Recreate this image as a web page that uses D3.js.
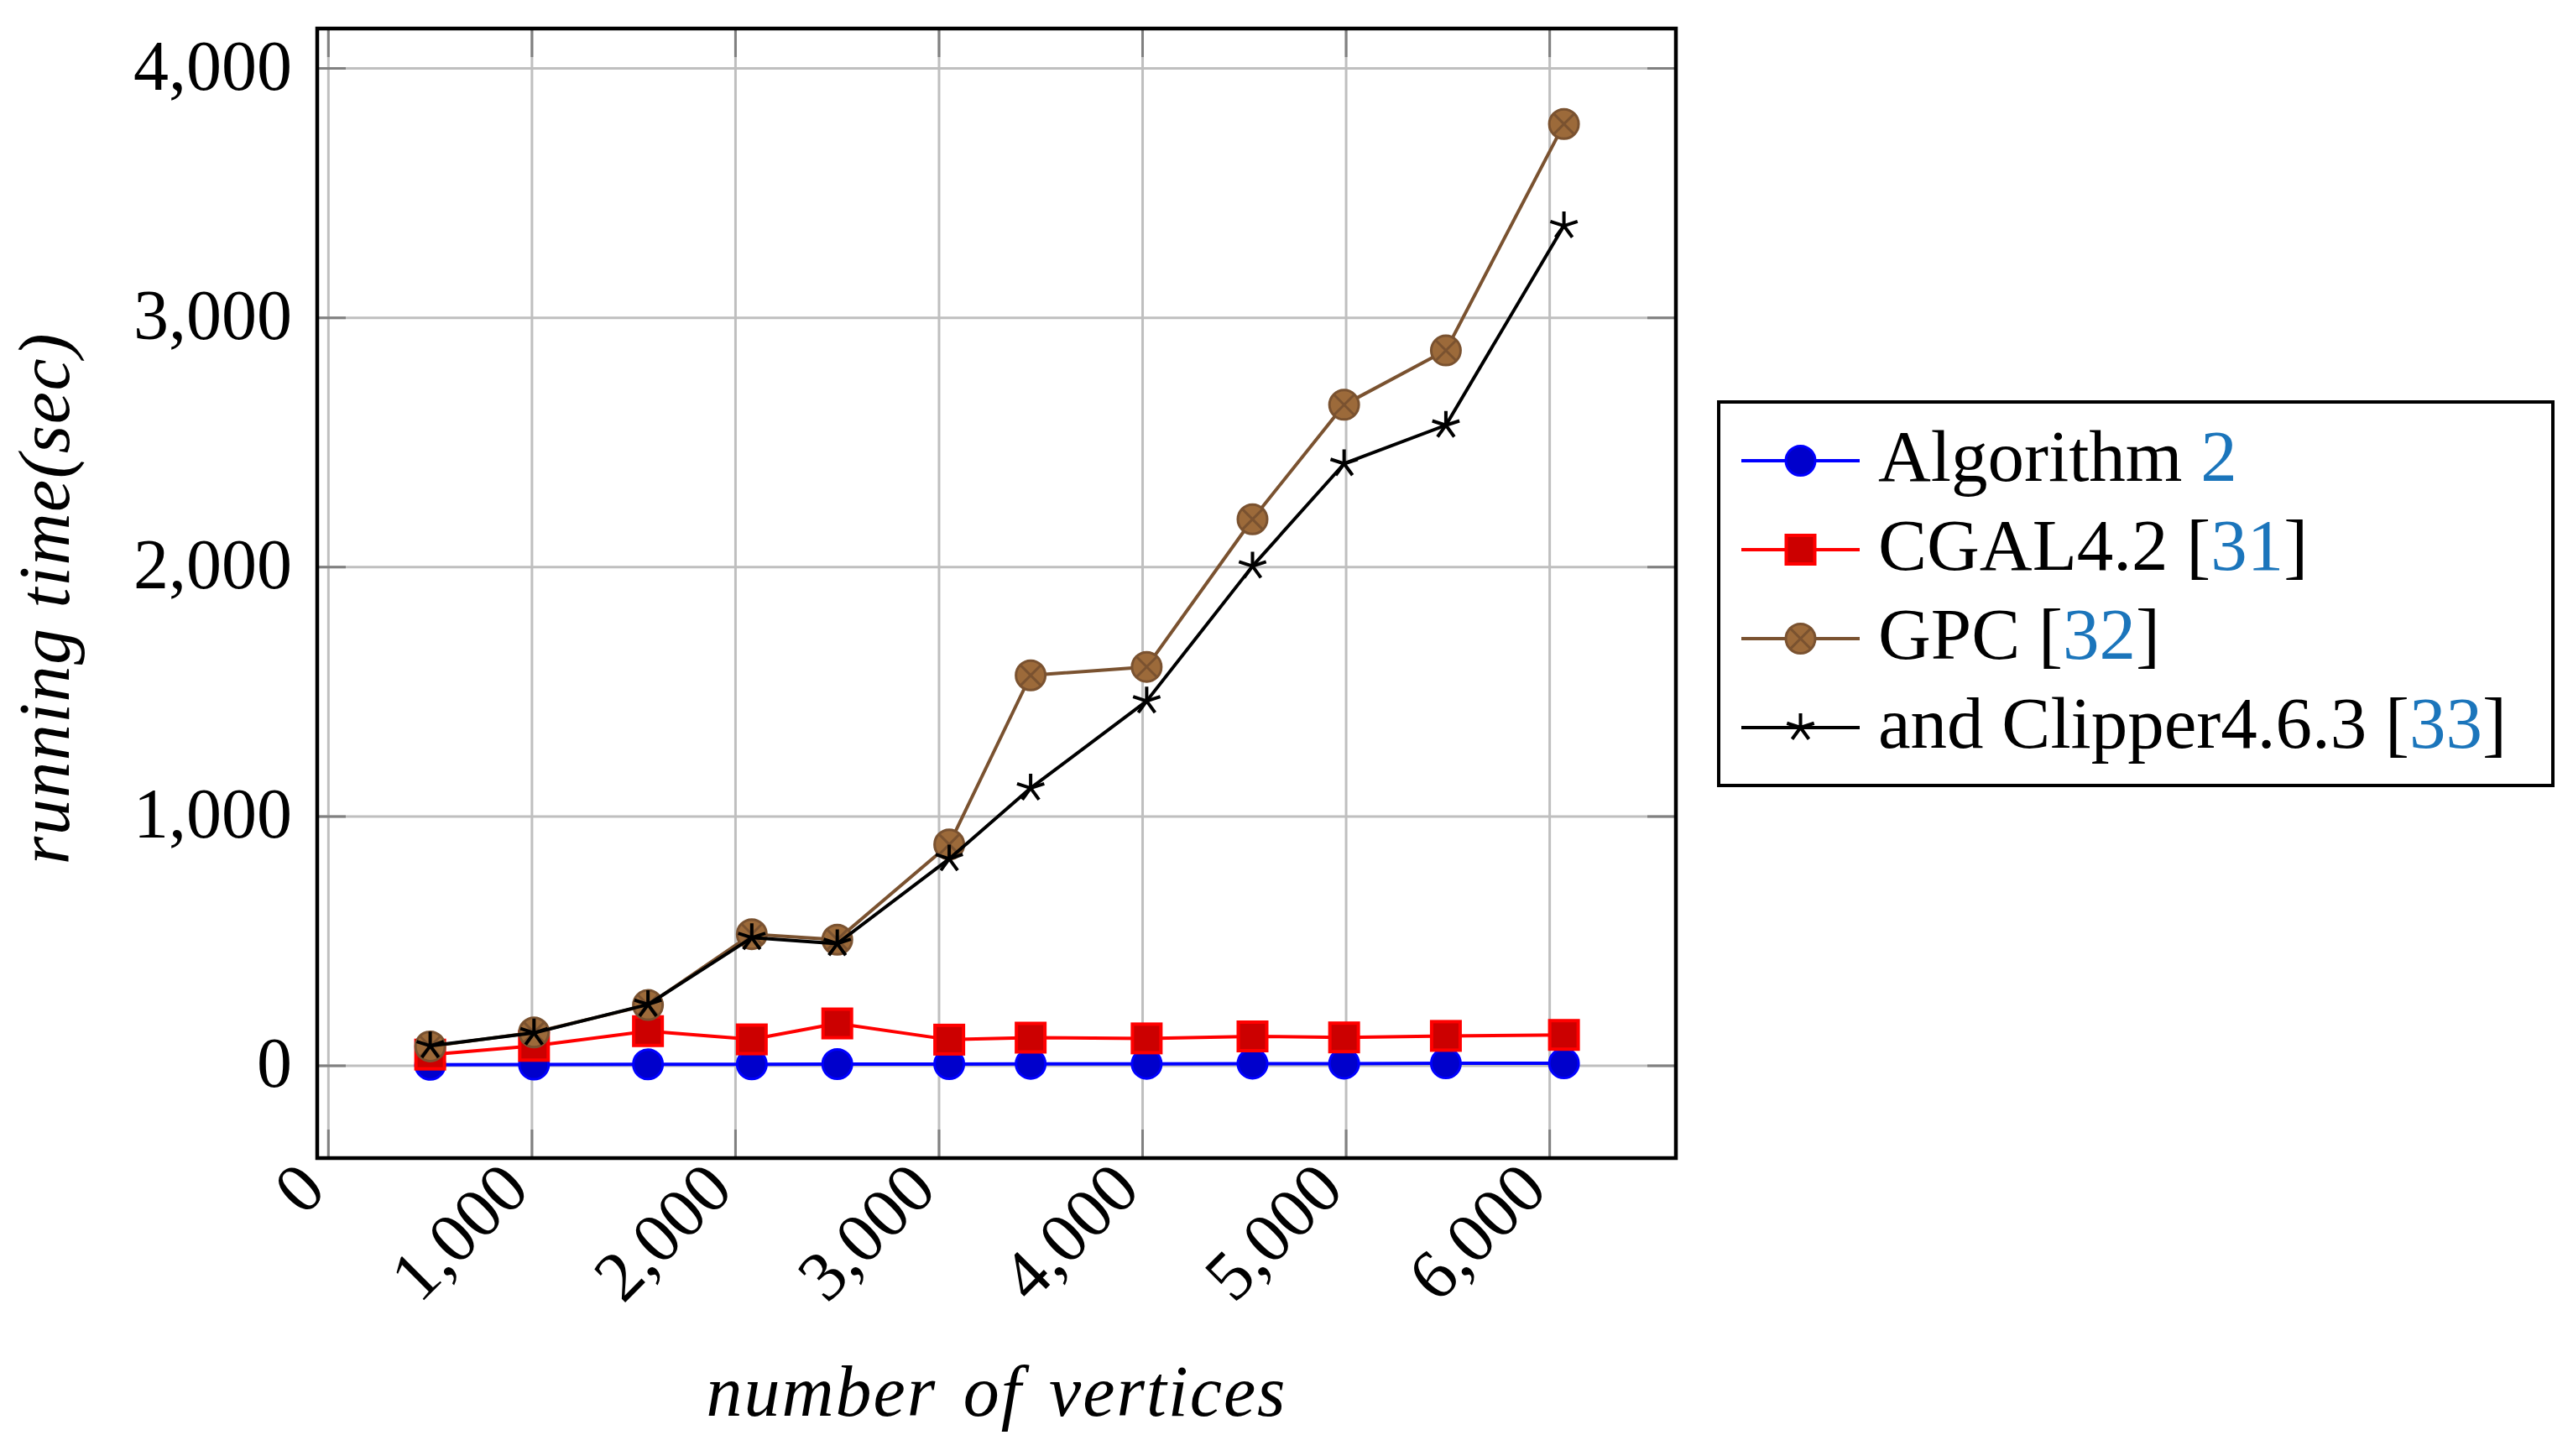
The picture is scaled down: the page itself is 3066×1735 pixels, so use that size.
<!DOCTYPE html>
<html lang="en">
<head>
  <meta charset="UTF-8">
  <title>Running time vs number of vertices</title>
  <script src="https://d3js.org/d3.v7.min.js"></script>
  <style>
    body { margin: 0; background: #fff; }
    svg text { font-family: "Liberation Serif", "Times New Roman", serif; fill: #000; }
    .grid line { stroke: #bfbfbf; stroke-width: 3; }
    .tick-mark { stroke: #808080; stroke-width: 3; }
  </style>
</head>
<body>
  <svg id="chart" width="3066" height="1735"></svg>

  <script>
    // values
    const vertices = [500, 1010, 1570, 2080, 2500, 3050, 3450, 4020, 4540, 4990, 5490, 6070];
    const algorithm2 = [4, 5, 6, 6, 7, 7, 8, 8, 9, 9, 10, 10];
    const cgal = [45, 80, 139, 106, 170, 105, 113, 110, 118, 114, 120, 124];
    const gpc = [78, 134, 244, 528, 506, 888, 1566, 1600, 2192, 2651, 2869, 3777];
    const clipper = [80, 132, 246, 514, 490, 830, 1114, 1463, 2004, 2415, 2569, 3369];

    const xTicks = [0, 1000, 2000, 3000, 4000, 5000, 6000];
    const yTicks = [0, 1000, 2000, 3000, 4000];

    const seriesNames = ["Algorithm ", "CGAL4.2 [", "GPC [", "and Clipper4.6.3 ["];
    const seriesRefs = ["2", "31", "32", "33"];
    const seriesClose = ["", "]", "]", "]"];

    const svg = d3.select("#chart");
    const plot = { left: 378, right: 1997, top: 34, bottom: 1380 };

    const x = d3.scaleLinear().domain([-55, 6620]).range([plot.left, plot.right]);
    const y = d3.scaleLinear().domain([-370, 4160]).range([plot.bottom, plot.top]);
    const fmt = d3.format(",");

    // grid
    const grid = svg.append("g").attr("class", "grid");
    grid.selectAll(".vx").data(xTicks).enter().append("line")
      .attr("x1", d => x(d)).attr("x2", d => x(d))
      .attr("y1", plot.top).attr("y2", plot.bottom);
    grid.selectAll(".hy").data(yTicks).enter().append("line")
      .attr("x1", plot.left).attr("x2", plot.right)
      .attr("y1", d => y(d)).attr("y2", d => y(d));

    // inward ticks on all four sides
    const tl = 34;
    const ticks = svg.append("g");
    xTicks.forEach(t => {
      ticks.append("line").attr("class", "tick-mark")
        .attr("x1", x(t)).attr("x2", x(t)).attr("y1", plot.bottom).attr("y2", plot.bottom - tl);
      ticks.append("line").attr("class", "tick-mark")
        .attr("x1", x(t)).attr("x2", x(t)).attr("y1", plot.top).attr("y2", plot.top + tl);
    });
    yTicks.forEach(t => {
      ticks.append("line").attr("class", "tick-mark")
        .attr("x1", plot.left).attr("x2", plot.left + tl).attr("y1", y(t)).attr("y2", y(t));
      ticks.append("line").attr("class", "tick-mark")
        .attr("x1", plot.right).attr("x2", plot.right - tl).attr("y1", y(t)).attr("y2", y(t));
    });

    // tick labels
    svg.append("g").selectAll("text").data(yTicks).enter().append("text")
      .attr("x", plot.left - 30).attr("y", d => y(d)).attr("dy", "0.3em")
      .attr("text-anchor", "end").style("font-size", "84px")
      .text(d => fmt(d));

    svg.append("g").selectAll("text").data(xTicks).enter().append("text")
      .attr("transform", d => `translate(${x(d) - 21},${plot.bottom + 20}) rotate(-45)`)
      .attr("dy", "0.35em").attr("text-anchor", "end").style("font-size", "84px")
      .text(d => fmt(d));

    // axis titles
    svg.append("text")
      .attr("transform", `translate(82,${(plot.top + plot.bottom) / 2 + 6}) rotate(-90)`)
      .attr("text-anchor", "middle").style("font-size", "86px").style("font-style", "italic")
      .style("letter-spacing", "1.5px")
      .text("running time(sec)");

    svg.append("text")
      .attr("x", (plot.left + plot.right) / 2).attr("y", 1687)
      .attr("text-anchor", "middle").style("font-size", "86px").style("font-style", "italic")
      .style("letter-spacing", "2px").style("word-spacing", "8px")
      .text("number of vertices");

    // five-armed star as drawn by the original plot
    function starPath(r) {
      let p = "";
      for (let k = 0; k < 5; k++) {
        const a = -Math.PI / 2 + k * 2 * Math.PI / 5;
        p += `M0,0L${(r * Math.cos(a)).toFixed(2)},${(r * Math.sin(a)).toFixed(2)}`;
      }
      return p;
    }

    function drawMarker(g, kind) {
      if (kind === "circle") {
        g.append("circle").attr("r", 17.5).attr("fill", "#0000cc").attr("stroke", "#0000ff").attr("stroke-width", 3);
      } else if (kind === "square") {
        g.append("rect").attr("x", -17).attr("y", -17).attr("width", 34).attr("height", 34)
          .attr("fill", "#cc0000").attr("stroke", "#ff0000").attr("stroke-width", 4);
      } else if (kind === "otimes") {
        g.append("circle").attr("r", 17.5).attr("fill", "#9c6a3a").attr("stroke", "#7a5230").attr("stroke-width", 3);
        const c = 17.5 * Math.SQRT1_2;
        g.append("path").attr("d", `M${-c},${-c}L${c},${c}M${-c},${c}L${c},${-c}`)
          .attr("stroke", "#7a5230").attr("stroke-width", 3);
      } else if (kind === "star") {
        g.append("path").attr("d", starPath(17)).attr("stroke", "#000").attr("stroke-width", 4)
          .attr("fill", "none");
      }
    }

    const series = [
      { values: algorithm2, color: "#0000ff", marker: "circle" },
      { values: cgal, color: "#ff0000", marker: "square" },
      { values: gpc, color: "#7a5230", marker: "otimes" },
      { values: clipper, color: "#000000", marker: "star" }
    ];

    const line = d3.line().x(d => x(d[0])).y(d => y(d[1]));

    series.forEach(s => {
      const pts = vertices.map((v, i) => [v, s.values[i]]);
      const g = svg.append("g");
      g.append("path").datum(pts).attr("d", line)
        .attr("fill", "none").attr("stroke", s.color).attr("stroke-width", 4)
        .attr("stroke-linejoin", "round");
      g.selectAll(".m").data(pts).enter().append("g")
        .attr("transform", d => `translate(${x(d[0])},${y(d[1])})`)
        .each(function() { drawMarker(d3.select(this), s.marker); });
    });

    // frame
    svg.append("rect")
      .attr("x", plot.left).attr("y", plot.top)
      .attr("width", plot.right - plot.left).attr("height", plot.bottom - plot.top)
      .attr("fill", "none").attr("stroke", "#000").attr("stroke-width", 4.5);

    // legend
    const lg = { x: 2048, y: 479, w: 994, h: 457 };
    const legend = svg.append("g");
    legend.append("rect").attr("x", lg.x).attr("y", lg.y).attr("width", lg.w).attr("height", lg.h)
      .attr("fill", "#fff").attr("stroke", "#000").attr("stroke-width", 4);

    series.forEach((s, i) => {
      const ry = lg.y + 70 + i * 106;
      legend.append("line").attr("x1", lg.x + 27).attr("x2", lg.x + 168)
        .attr("y1", ry).attr("y2", ry).attr("stroke", s.color).attr("stroke-width", 4);
      const mg = legend.append("g").attr("transform", `translate(${lg.x + 97.5},${ry})`);
      drawMarker(mg, s.marker);
      const t = legend.append("text").attr("x", lg.x + 190).attr("y", ry).attr("dy", "0.28em")
        .style("font-size", "87px");
      t.append("tspan").text(seriesNames[i]);
      t.append("tspan").style("fill", "#1b75bb").text(seriesRefs[i]);
      t.append("tspan").text(seriesClose[i]);
    });
  </script>
</body>
</html>
